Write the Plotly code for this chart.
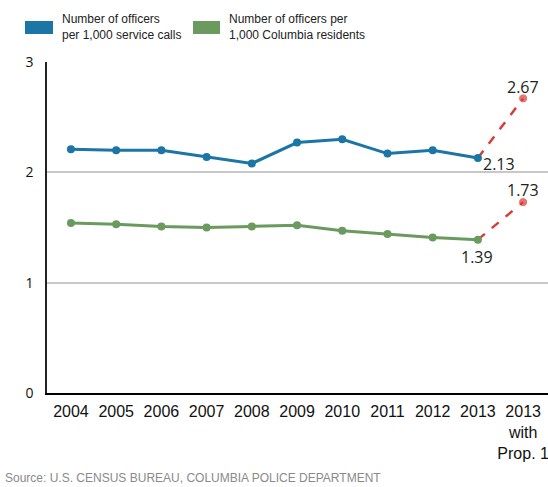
import plotly.graph_objects as go

# values
years = ["2004", "2005", "2006", "2007", "2008", "2009", "2010", "2011", "2012", "2013"]
prop_label = "2013<br>with<br>Prop. 1"
per_calls = [2.21, 2.20, 2.20, 2.14, 2.08, 2.27, 2.30, 2.17, 2.20, 2.13]
per_residents = [1.54, 1.53, 1.51, 1.50, 1.51, 1.52, 1.47, 1.44, 1.41, 1.39]
prop_calls = 2.67
prop_residents = 1.73

BLUE = "#1b75a5"
GREEN = "#6a9a5e"
RED = "#d93c37"

W, H = 548, 487
L, R, T, B = 47, 0, 62, 94


def px_x(p):
    return (p - L) / (W - L - R)


def px_y(p):
    return (H - B - p) / (H - T - B)


xs = list(range(len(years)))
x_prop = len(years)

fig = go.Figure()

# projected (dashed) segments first so the 2013 markers sit on top
for series, proj in [(per_calls, prop_calls), (per_residents, prop_residents)]:
    fig.add_trace(go.Scatter(
        x=[xs[-1], x_prop], y=[series[-1], proj],
        mode="lines+markers",
        line=dict(color=RED, width=2.5, dash="dash"),
        marker=dict(color=RED, size=[0, 9]),
        hoverinfo="skip", showlegend=False, cliponaxis=False,
    ))

fig.add_trace(go.Scatter(
    x=xs, y=per_calls, mode="lines+markers",
    line=dict(color=BLUE, width=3), marker=dict(color=BLUE, size=8),
    showlegend=False,
))
fig.add_trace(go.Scatter(
    x=xs, y=per_residents, mode="lines+markers",
    line=dict(color=GREEN, width=3), marker=dict(color=GREEN, size=8),
    showlegend=False,
))

num_font = dict(family="Open Sans, sans-serif", size=16, color="#222")
labels = [
    (xs[-1], per_calls[-1], f"{per_calls[-1]:.2f}", "left", 3, -6),
    (xs[-1], per_residents[-1], f"{per_residents[-1]:.2f}", "center", -1, -17),
    (x_prop, prop_calls, f"{prop_calls:.2f}", "center", 0, 11),
    (x_prop, prop_residents, f"{prop_residents:.2f}", "center", 0, 12),
]
for x, y, txt, xa, dx, dy in labels:
    fig.add_annotation(x=x, y=y, text=txt, showarrow=False, xanchor=xa, yanchor="middle",
                       xshift=dx, yshift=dy, font=num_font)

# custom legend at the top
legend_items = [
    (25, 53, 60, BLUE, "Number of officers<br>per 1,000 service calls"),
    (193, 220, 227, GREEN, "Number of officers per<br>1,000 Columbia residents"),
]
for x0, x1, tx, col, txt in legend_items:
    fig.add_shape(type="rect", xref="paper", yref="paper",
                  x0=px_x(x0), x1=px_x(x1), y0=px_y(34), y1=px_y(21),
                  fillcolor=col, line=dict(width=0))
    fig.add_annotation(xref="paper", yref="paper", x=px_x(tx), y=px_y(26.5),
                       text=txt, showarrow=False, xanchor="left", yanchor="middle",
                       align="left", font=dict(family="Liberation Sans, Arial", size=12, color="#222"))

fig.add_annotation(xref="paper", yref="paper", x=px_x(3), y=px_y(478),
                   text="Source: U.S. CENSUS BUREAU, COLUMBIA POLICE DEPARTMENT",
                   showarrow=False, xanchor="left", yanchor="middle",
                   font=dict(family="Liberation Sans, Arial", size=12, color="#8a8a8a"))

fig.update_layout(
    width=W, height=H,
    margin=dict(l=L, r=R, t=T, b=B),
    plot_bgcolor="white", paper_bgcolor="white",
    xaxis=dict(
        range=[-0.53, 10.55], tickmode="array",
        tickvals=xs + [x_prop], ticktext=years + [prop_label],
        tickangle=0, ticklabelstandoff=3,
        showgrid=False, zeroline=False, showline=True, linecolor="black", linewidth=2,
        ticklabeloverflow="allow",
        tickfont=dict(family="Liberation Sans, Arial", size=16, color="#111"),
    ),
    yaxis=dict(
        range=[0, 3], tickvals=[0, 1, 2, 3],
        showgrid=True, gridcolor="#c8c8c8", gridwidth=1.5,
        zeroline=False, showline=True, linecolor="#222", linewidth=1.5,
        ticklabelstandoff=9,
        tickfont=dict(family="Open Sans, sans-serif", size=14, color="#111"),
    ),
    hovermode=False,
)

fig.write_html("out.html", config={"displayModeBar": False},
               post_script="document.body.style.margin='0';")
